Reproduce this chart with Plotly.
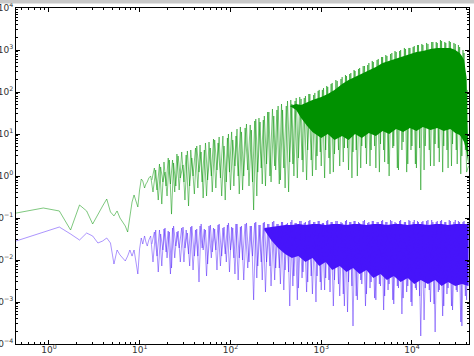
import plotly.graph_objects as go

# ---------------- data ----------------
freq_low = [0.433, 0.866, 1.30, 1.73, 2.17, 2.60, 3.03, 3.46, 3.90, 4.33,
            4.76, 5.20, 5.63, 6.06, 6.50, 6.93, 7.36, 7.79, 8.23, 8.66,
            9.09, 9.53, 9.96, 10.4, 10.8, 11.3, 11.7, 12.1, 12.6]

green_low = [0.131, 0.173, 0.147, 0.0518, 0.204, 0.147, 0.0720, 0.124, 0.193, 0.283,
             0.139, 0.112, 0.147, 0.100, 0.0803, 0.0645, 0.0464, 0.124, 0.240, 0.353,
             0.268, 0.183, 0.464, 0.848, 0.760, 0.518, 0.645, 0.720, 0.896]

blue_low = [0.0283, 0.0464, 0.0610, 0.0416, 0.0299, 0.0439, 0.0373, 0.0254, 0.0283, 0.0334,
            0.0254, 0.00803, 0.0173, 0.0132, 0.0112, 0.00947, 0.0124, 0.0173, 0.0124, 0.0173,
            0.00896, 0.00464, 0.0183, 0.0334, 0.0240, 0.0373, 0.0268, 0.0215, 0.0299]

freq_high = [13.2, 14, 15, 16, 17, 18, 19, 20, 21.2, 22.4,
             23.6, 25, 26.5, 28, 30, 31.5, 33.5, 35.5, 37.5, 40,
             42.5, 45, 47.5, 50, 53, 56, 60, 63, 67, 71,
             75, 80, 85, 90, 95,
             100, 106, 112, 118, 125, 132, 140, 150, 160, 170,
             180, 190, 200, 212, 224, 236, 250, 265, 280, 300,
             315, 335, 355, 375, 400, 425, 450, 475, 500, 530,
             560, 600, 630, 670, 710, 750, 800, 850, 900, 950,
             1000, 1060, 1120, 1180, 1250, 1320, 1400, 1500, 1600, 1700,
             1800, 1900, 2000, 2120, 2240, 2360, 2500, 2650, 2800, 3000,
             3150, 3350, 3550, 3750, 4000, 4250, 4500, 4750, 5000, 5300,
             5600, 6000, 6300, 6700, 7100, 7500, 8000, 8500, 9000, 9500,
             10000, 10600, 11200, 11800, 12500, 13200, 14000, 15000, 16000, 17000,
             18000, 19000, 20000, 21200, 22400, 23600, 25000, 26500, 28000, 30000,
             31500, 33500, 35500, 37500, 40000, 42000]

green_high = [1.00, 0.416, 1.39, 0.268, 1.64, 0.720, 1.24, 0.334, 2.40, 0.124,
              2.04, 0.578, 2.99, 0.896, 1.83, 0.268, 3.94, 0.578, 2.68, 0.373,
              5.18, 1.24, 3.73, 0.299, 6.11, 0.803, 4.64, 0.416, 7.20, 1.39,
              8.49, 0.334, 5.18, 0.720, 10.0, 0.464, 7.20, 1.73, 13.1, 0.373,
              11.2, 1.00, 17.3, 0.578, 12.4, 0.155, 22.7, 1.24, 19.3, 0.645,
              26.8, 1.93, 33.4, 0.720, 26.8, 1.39, 46.4, 0.803, 37.3, 0.518,
              61.0, 2.15, 51.8, 1.00, 72.0, 2.68, 68.2, 1.24, 80.3, 4.16,
              89.6, 1.00, 94.9, 2.99, 112, 1.73, 124, 4.16, 132, 1.12,
              164, 3.34, 183, 1.73, 227, 4.64, 240, 1.39, 283, 3.73,
              316, 1.00, 373, 5.18, 416, 1.93, 490, 4.16, 518, 1.55,
              611, 5.78, 681, 2.15, 720, 1.00, 848, 5.18, 896, 1.39,
              1000, 6.45, 1057, 1.93, 1117, 5.18, 1245, 1.55, 1315, 0.464,
              1315, 5.18, 1390, 1.73, 1550, 5.78, 1470, 2.15, 1640, 5.18,
              1470, 1.55, 1550, 5.78, 1390, 1.93, 1176, 2.99, 848, 1.24,
              1.73]

blue_high = [0.0373, 0.00896, 0.0518, 0.00518, 0.0416, 0.0173, 0.0578, 0.0112, 0.0464, 0.00645,
             0.0645, 0.0215, 0.0490, 0.00896, 0.0610, 0.0193, 0.0439, 0.00720, 0.0645, 0.0124,
             0.0547, 0.00299, 0.0720, 0.0173, 0.0518, 0.00803, 0.0681, 0.0155, 0.0547, 0.00578,
             0.0720, 0.0124, 0.0610, 0.00896, 0.0761, 0.0173, 0.0578, 0.00464, 0.0720, 0.0112,
             0.0645, 0.00334, 0.0761, 0.00896, 0.0645, 0.00112, 0.0803, 0.00720, 0.0681, 0.00334,
             0.0803, 0.00896, 0.0720, 0.00240, 0.0848, 0.00645, 0.0720, 0.00268, 0.0803, 0.00578,
             0.0761, 0.000803, 0.0896, 0.00416, 0.0761, 0.00215, 0.0848, 0.00518, 0.0803, 0.00299,
             0.0896, 0.00155, 0.0803, 0.00416, 0.0848, 0.00193, 0.0761, 0.00373, 0.0896, 0.00173,
             0.0803, 0.00334, 0.0848, 0.00139, 0.0761, 0.000803, 0.0896, 0.00299, 0.0803, 0.000268,
             0.0848, 0.00112, 0.0761, 0.00268, 0.0896, 0.00155, 0.0803, 0.00299, 0.0848, 0.00112,
             0.0803, 0.00240, 0.0896, 0.00139, 0.0803, 0.00268, 0.0848, 0.000896, 0.0761, 0.00215,
             0.0896, 0.00124, 0.0803, 0.00240, 0.0848, 0.000803, 0.0896, 0.00193, 0.0803, 0.000155,
             0.0848, 0.00215, 0.0896, 0.00100, 0.0803, 0.000193, 0.0848, 0.00193, 0.0896, 0.000803,
             0.0803, 0.00215, 0.0848, 0.000645, 0.0896, 0.00173, 0.0803, 0.000268, 0.0848, 0.00112,
             0.0803]

# second, interleaved set of spectral lines (between the frequencies above)
freq_mid = [13.6, 14.5, 15.5, 16.5, 17.5, 18.5, 19.5, 20.6, 21.8, 23.0,
            24.3, 25.7, 27.2, 29.0, 30.7, 32.5, 34.5, 36.5, 38.7, 41.2,
            43.7, 46.2, 48.7, 51.5, 54.5, 58, 61.5, 65, 69, 73,
            77.5, 82.5, 87.5, 92.5, 97.5,
            103, 109, 115, 121.5, 128.5, 136, 145, 155, 165, 175,
            185, 195, 206, 218, 230, 243, 257, 272, 290, 307,
            325, 345, 365, 387, 412, 437, 462, 487, 515, 545,
            580, 615, 650, 690, 730, 775, 825, 875, 925, 975,
            1030, 1090, 1150, 1215, 1285, 1360, 1450, 1550, 1650, 1750,
            1850, 1950, 2060, 2180, 2300, 2430, 2575, 2725, 2900, 3075,
            3250, 3450, 3650, 3875, 4125, 4375, 4625, 4875, 5150, 5450,
            5800, 6150, 6500, 6900, 7300, 7750, 8250, 8750, 9250, 9750,
            10300, 10900, 11500, 12150, 12850, 13600, 14500, 15500, 16500, 17500,
            18500, 19500, 20600, 21800, 23000, 24300, 25750, 27250, 29000, 30750,
            32500, 34500, 36500, 38750, 41000]

green_mid = [0.803, 1.55, 0.464, 1.93, 0.215, 2.15, 0.578, 2.68, 0.645, 2.40,
             0.416, 3.34, 0.464, 3.73, 0.720, 3.16, 0.193, 4.16, 1.00, 4.64,
             0.518, 5.47, 0.720, 4.16, 0.334, 6.45, 1.00, 7.60, 0.518, 6.11,
             0.896, 8.96, 0.268, 8.03, 1.24,
             11.2, 0.578, 8.96, 1.00, 14.7, 0.464, 13.9, 1.39, 16.4, 0.720,
             20.4, 0.334, 24.0, 1.55, 21.5, 0.578, 33.4, 1.00, 39.4, 1.73,
             37.3, 0.645, 51.8, 1.55, 46.4, 0.416, 64.5, 1.93, 61.0, 0.896,
             76.1, 2.40, 72.0, 0.803, 89.6, 2.40, 84.8, 1.39, 106, 3.73,
             112, 0.896, 139, 2.68, 155, 1.24, 193, 4.16, 204, 2.15,
             254, 4.64, 268, 0.896, 334, 4.16, 353, 1.55, 416, 4.64,
             439, 1.73, 548, 5.18, 578, 1.24, 681, 4.16, 760, 1.93,
             803, 4.64, 946, 1.55, 946, 4.16, 1117, 1.24, 1117, 4.16,
             1176, 1.93, 1315, 4.64, 1390, 1.39, 1470, 4.16, 1550, 1.73,
             1550, 4.64, 1730, 1.24, 1550, 4.16, 1640, 1.73, 1470, 4.16,
             1315, 1.12, 1000, 4.16, 112]

blue_mid = [0.0240, 0.0464, 0.0124, 0.0518, 0.00720, 0.0547, 0.0155, 0.0490, 0.00464, 0.0578,
            0.0112, 0.0464, 0.0193, 0.0578, 0.00896, 0.0518, 0.0139, 0.0610, 0.00578, 0.0518,
            0.0124, 0.0645, 0.0193, 0.0547, 0.00416, 0.0645, 0.0112, 0.0578, 0.0173, 0.0681,
            0.00720, 0.0578, 0.0139, 0.0681, 0.00518,
            0.0610, 0.0112, 0.0720, 0.00334, 0.0610, 0.0100, 0.0720, 0.00645, 0.0645, 0.0124,
            0.0761, 0.00373, 0.0681, 0.00896, 0.0761, 0.00173, 0.0720, 0.00720, 0.0803, 0.00334,
            0.0720, 0.00645, 0.0803, 0.00193, 0.0720, 0.00518, 0.0803, 0.00240, 0.0761, 0.00112,
            0.0848, 0.00373, 0.0761, 0.00173, 0.0848, 0.00416, 0.0803, 0.00100, 0.0848, 0.00299,
            0.0761, 0.00193, 0.0848, 0.00334, 0.0803, 0.000803, 0.0848, 0.00268, 0.0803, 0.00155,
            0.0848, 0.000578, 0.0803, 0.00240, 0.0848, 0.00139, 0.0803, 0.00334, 0.0848, 0.000803,
            0.0761, 0.00215, 0.0848, 0.00124, 0.0803, 0.00268, 0.0848, 0.000645, 0.0803, 0.00193,
            0.0896, 0.00112, 0.0803, 0.00240, 0.0848, 0.000518, 0.0803, 0.00173, 0.0896, 0.00100,
            0.0803, 0.00215, 0.0848, 0.00139, 0.0803, 0.000373, 0.0848, 0.00193, 0.0896, 0.000896,
            0.0803, 0.00173, 0.0848, 0.000464, 0.0803, 0.00155, 0.0896, 0.000803, 0.0803, 0.00193,
            0.0848, 0.000334, 0.0803, 0.00139, 0.0803]

# dense (solid) core of each spectrum: upper / lower edges
green_band_f = [450, 530, 600, 700, 800, 1000, 1180, 1400, 1700, 2000,
                2360, 2800, 3350, 4000, 4750, 5600, 6700, 8000, 9500, 11200,
                13200, 16000, 19000, 22400, 26500, 30000, 33500, 35500, 37500, 40000,
                42000]
green_band_top = [46.4, 51.8, 49.0, 57.8, 64.5, 76.1, 89.6, 112, 155, 193,
                  227, 268, 334, 394, 490, 548, 645, 720, 803, 896,
                  946, 1057, 1117, 1117, 1117, 1000, 848, 720, 578, 215,
                  2.40]
green_band_bot = [46.4, 37.3, 24.0, 15.5, 11.2, 8.03, 10.0, 7.20, 8.96, 7.20,
                  10.0, 8.03, 10.6, 8.96, 11.8, 10.0, 13.1, 11.2, 13.9, 11.8,
                  14.7, 12.4, 13.9, 11.8, 13.1, 10.6, 9.47, 8.03, 6.45, 3.73,
                  1.73]

blue_band_f = [236, 280, 335, 400, 475, 560, 670, 800, 950, 1120,
               1320, 1600, 1900, 2240, 2650, 3150, 3750, 4500, 5300, 6300,
               7500, 9000, 10600, 12500, 15000, 18000, 21200, 25000, 30000, 35500,
               42000]
blue_band_top = [0.0578, 0.0610, 0.0645, 0.0681, 0.0681, 0.0720, 0.0681, 0.0720, 0.0720, 0.0681,
                 0.0720, 0.0720, 0.0681, 0.0720, 0.0720, 0.0681, 0.0720, 0.0720, 0.0681, 0.0720,
                 0.0720, 0.0681, 0.0720, 0.0720, 0.0681, 0.0720, 0.0720, 0.0681, 0.0720, 0.0720,
                 0.0720]
blue_band_bot = [0.0518, 0.0299, 0.0193, 0.0139, 0.0112, 0.0124, 0.00896, 0.0112, 0.00720, 0.00896,
                 0.00578, 0.00720, 0.00518, 0.00645, 0.00464, 0.00578, 0.00373, 0.00464, 0.00334, 0.00416,
                 0.00299, 0.00373, 0.00268, 0.00334, 0.00268, 0.00334, 0.00240, 0.00299, 0.00240, 0.00268,
                 0.00240]

x_tick_vals = [1, 10, 100, 1000, 10000]
x_tick_text = ["10<sup>0</sup>", "10<sup>1</sup>", "10<sup>2</sup>", "10<sup>3</sup>", "10<sup>4</sup>"]
y_tick_vals = [1e-4, 1e-3, 1e-2, 1e-1, 1, 10, 100, 1000, 10000]
y_tick_text = ["10<sup>\u22124</sup>", "10<sup>\u22123</sup>", "10<sup>\u22122</sup>", "10<sup>\u22121</sup>",
               "10<sup>0</sup>", "10<sup>1</sup>", "10<sup>2</sup>", "10<sup>3</sup>", "10<sup>4</sup>"]

GREEN = "rgb(0,145,0)"
GREEN_LIGHT = "rgba(0,145,0,0.5)"
BLUE = "rgb(70,20,250)"
BLUE_LIGHT = "rgba(70,20,250,0.45)"

freq = freq_low + freq_high
green = green_low + green_high
blue = blue_low + blue_high

fig = go.Figure()
fig.add_trace(go.Scatter(x=green_band_f + green_band_f[::-1],
                         y=green_band_top + green_band_bot[::-1],
                         fill="toself", fillcolor=GREEN, mode="lines",
                         line=dict(width=0, color=GREEN), hoverinfo="skip", showlegend=False))
fig.add_trace(go.Scatter(x=blue_band_f + blue_band_f[::-1],
                         y=blue_band_top + blue_band_bot[::-1],
                         fill="toself", fillcolor=BLUE, mode="lines",
                         line=dict(width=0, color=BLUE), hoverinfo="skip", showlegend=False))
fig.add_trace(go.Scatter(x=freq_mid, y=green_mid, mode="lines",
                         line=dict(color=GREEN_LIGHT, width=1), showlegend=False))
fig.add_trace(go.Scatter(x=freq, y=green, mode="lines",
                         line=dict(color=GREEN_LIGHT, width=1), showlegend=False))
fig.add_trace(go.Scatter(x=freq_mid, y=blue_mid, mode="lines",
                         line=dict(color=BLUE_LIGHT, width=1), showlegend=False))
fig.add_trace(go.Scatter(x=freq, y=blue, mode="lines",
                         line=dict(color=BLUE_LIGHT, width=1), showlegend=False))

minor_x = [m * 10 ** e for e in range(-1, 5) for m in range(2, 10)]
minor_y = [m * 10.0 ** e for e in range(-4, 4) for m in range(2, 10)]

tickfont = dict(family="DejaVu Sans", size=9, color="#333333")
common = dict(type="log", ticks="inside", ticklen=4, tickwidth=1, tickcolor="black",
              showline=True, linecolor="black", linewidth=1, mirror="allticks",
              showgrid=False, zeroline=False, tickfont=tickfont, automargin=False)

fig.update_layout(
    width=474, height=356,
    margin=dict(l=16, r=5, t=8, b=12),
    paper_bgcolor="white", plot_bgcolor="white",
    xaxis=dict(range=[-0.3635, 4.6285], tickmode="array", tickvals=x_tick_vals, ticktext=x_tick_text,
               ticklabelstandoff=-3,
               minor=dict(tickmode="array", tickvals=minor_x, ticks="inside", ticklen=2,
                          tickcolor="black", showgrid=False),
               **common),
    yaxis=dict(range=[-4, 4], tickmode="array", tickvals=y_tick_vals, ticktext=y_tick_text,
               minor=dict(tickmode="array", tickvals=minor_y, ticks="inside", ticklen=2,
                          tickcolor="black", showgrid=False),
               **common),
    shapes=[dict(type="rect", xref="paper", yref="paper",
                 x0=-16 / 453, x1=1 + 5 / 453, y0=1 + 4.5 / 336, y1=1 + 8 / 336,
                 fillcolor="#c8c8c8", line=dict(width=0), layer="above")],
)

fig.write_html("out.html")
